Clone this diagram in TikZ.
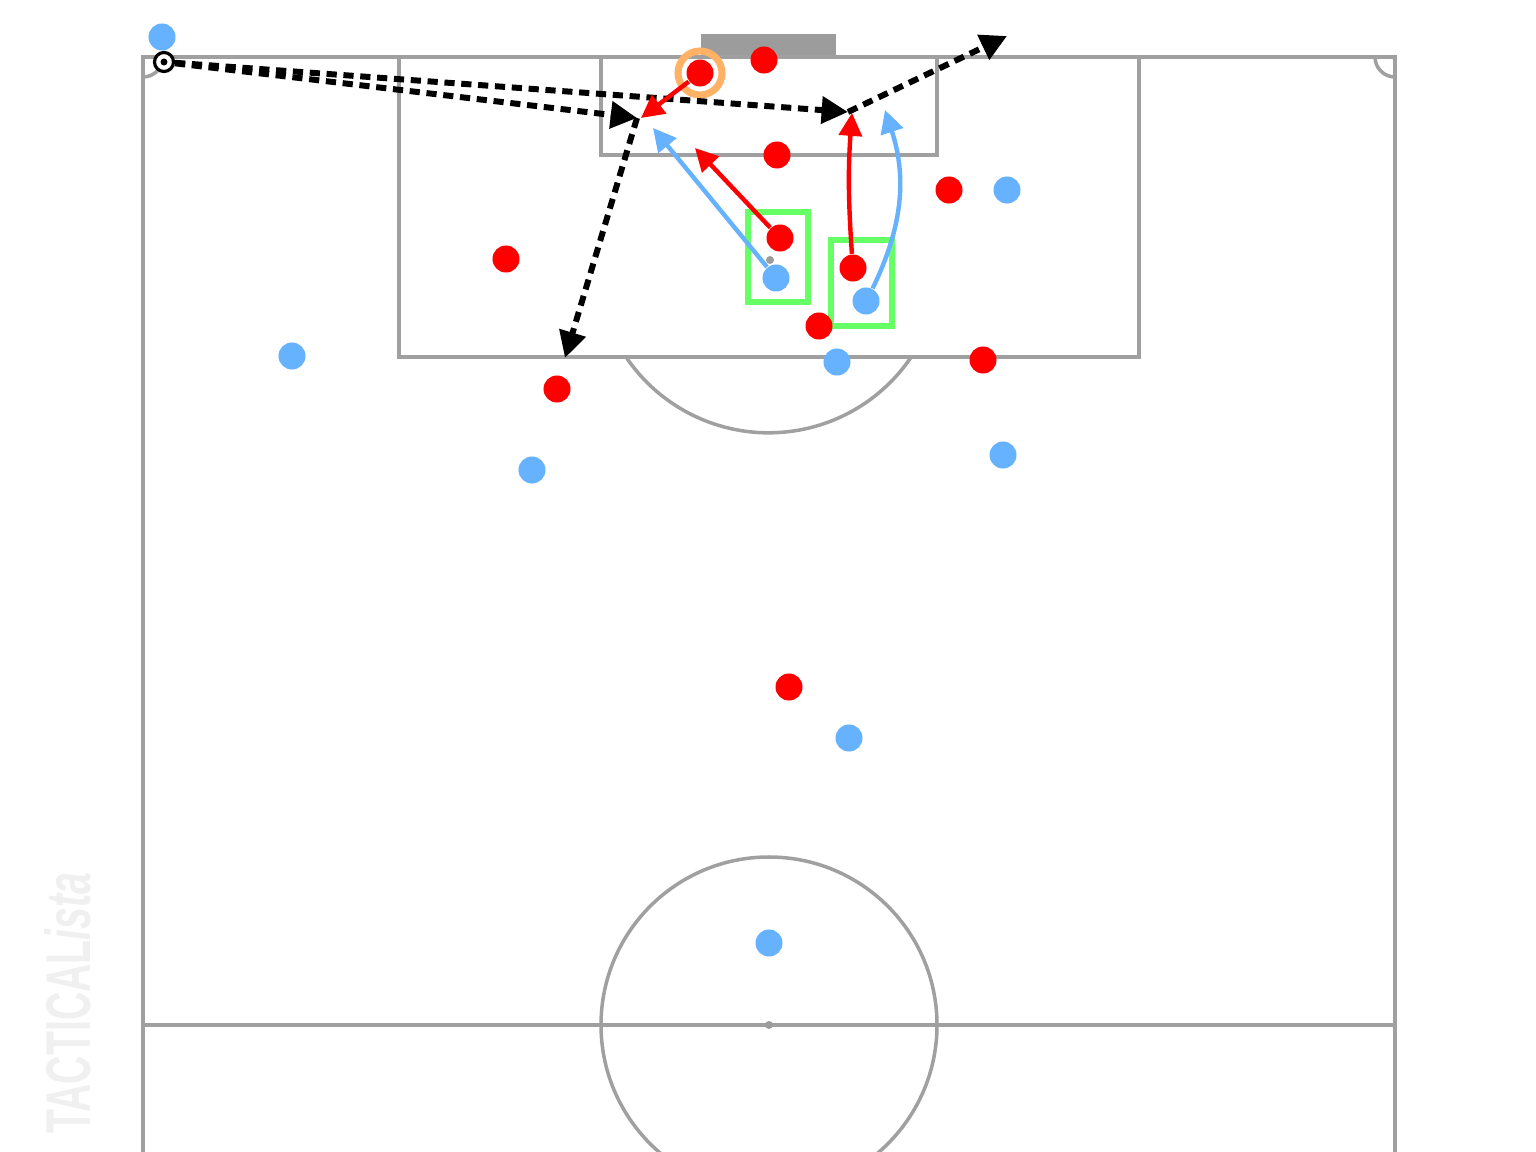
\documentclass[tikz,border=0pt]{standalone}
\usepackage{fontspec}
\setmainfont{Liberation Sans}
\usetikzlibrary{arrows.meta}

\definecolor{pitchgray}{HTML}{A0A0A0}
\definecolor{goalgray}{HTML}{9C9C9C}
\definecolor{homered}{HTML}{FF0000}
\definecolor{awayblue}{HTML}{66B2FF}
\definecolor{ringorange}{HTML}{FFB266}
\definecolor{markgreen}{HTML}{66FF66}

\tikzset{
    pitchline/.style={draw=pitchgray, line width=1pt},
    redp/.style={circle, fill=homered, minimum size=0.27cm, inner sep=0pt},
    bluep/.style={circle, fill=awayblue, minimum size=0.27cm, inner sep=0pt},
    passline/.style={draw=black, line width=1.7pt, dash pattern=on 2.9pt off 1.9pt,
        -{Triangle[length=7.5pt, width=7.5pt]}},
    redrun/.style={draw=homered, line width=1.25pt, -{Triangle[length=6.5pt, width=6.5pt]}},
    bluerun/.style={draw=awayblue, line width=1.25pt, -{Triangle[length=6.5pt, width=6.5pt]}},
    markbox/.style={draw=markgreen, line width=1.8pt}
}

\begin{document}
\begin{tikzpicture}[x=0.01cm, y=-0.01cm]
    \clip (0,0) rectangle (1536,1152);
    \fill[white] (0,0) rectangle (1536,1152);

    % watermark
    \node at (68,1003) [rotate=90, text=black!6, font=\bfseries\fontsize{18}{18}\selectfont]
        {\scalebox{0.62}[1]{TACTICAL\textit{ista}}};

    % pitch
    \fill[goalgray] (701,34) rectangle (836,57);
    \draw[pitchline] (143,1160) -- (143,57) -- (1395,57) -- (1395,1160);
    \draw[pitchline] (399,57) -- (399,357) -- (1139,357) -- (1139,57);
    \draw[pitchline] (601,57) -- (601,155) -- (937,155) -- (937,57);
    \draw[pitchline] (143,1025) -- (1395,1025);
    \draw[pitchline] (769,1025) circle (168);
    \draw[pitchline] (626,357) arc[start angle=214, end angle=326, x radius=172, y radius=-172];
    \draw[pitchline] (143,77) arc[start angle=-90, end angle=0, x radius=20, y radius=-20];
    \draw[pitchline] (1375,57) arc[start angle=180, end angle=270, x radius=20, y radius=-20];
    \fill[goalgray] (769,1025) circle (4);
    \fill[goalgray] (770,260) circle (4);

    % marked pairs
    \draw[markbox] (748,212) rectangle (808,302);
    \draw[markbox] (831,240) rectangle (892,326);

    % red players
    \draw[ringorange, line width=2pt] (700,73) circle (22);
    \node[redp] (r1) at (700,73) {};
    \node[redp] (r2) at (764,60) {};
    \node[redp] (r3) at (777,155) {};
    \node[redp] (r4) at (949,190) {};
    \node[redp] (r5) at (780,238) {};
    \node[redp] (r6) at (853,268) {};
    \node[redp] (r7) at (506,259) {};
    \node[redp] (r8) at (819,326) {};
    \node[redp] (r9) at (983,360) {};
    \node[redp] (r10) at (557,389) {};
    \node[redp] (r11) at (789,687) {};

    % blue players
    \node[bluep] (b1) at (162,37) {};
    \node[bluep] (b2) at (1007,190) {};
    \node[bluep] (b3) at (776,278) {};
    \node[bluep] (b4) at (866,301) {};
    \node[bluep] (b5) at (292,356) {};
    \node[bluep] (b6) at (837,362) {};
    \node[bluep] (b7) at (532,470) {};
    \node[bluep] (b8) at (1003,455) {};
    \node[bluep] (b9) at (849,738) {};
    \node[bluep] (b10) at (769,943) {};

    % ball
    \node[circle, draw=black, fill=white, line width=0.9pt, minimum size=0.19cm, inner sep=0pt] (ball) at (164,62) {};
    \fill[black] (164,62) circle (3.5);

    % targets
    \coordinate (t1) at (637,118);
    \coordinate (t2) at (848,112);
    \coordinate (t3) at (565,358);
    \coordinate (t4) at (1007,36);

    % passes
    \draw[passline] (ball) -- (t1);
    \draw[passline] (ball) -- (t2);
    \draw[passline] (t1) -- (t3);
    \draw[passline] (t2) -- (t4);

    % runs
    \draw[bluerun] (b3) -- (653,128);
    \draw[bluerun] (b4) to[bend right=22] (885,110);
    \draw[redrun] (r1) -- (641,118);
    \draw[redrun] (r5) -- (695,148);
    \draw[redrun] (r6) to[bend left=4] (852,113);
\end{tikzpicture}
\end{document}
